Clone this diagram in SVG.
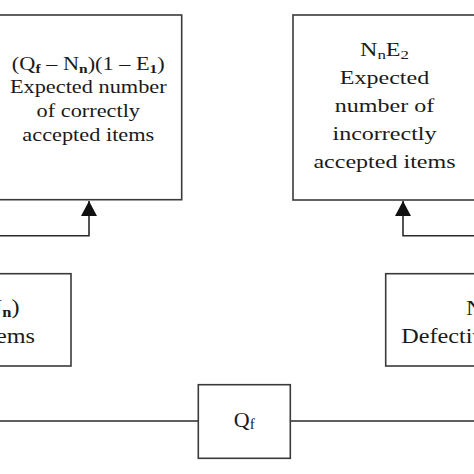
<svg xmlns="http://www.w3.org/2000/svg" width="474" height="474" viewBox="0 0 474 474">
<style>
.box{fill:#fff;stroke:#3a3a3a;stroke-width:1.6}
.conn{fill:none;stroke:#2a2a2a;stroke-width:1.6}
text{font-family:"Liberation Serif","Times New Roman",serif;fill:#1a1a1a}
.t18{font-size:18px}
.t185{font-size:18.5px}
.t22{font-size:22px}
.t20{font-size:22px}
</style>
<defs>
<marker id="arr" viewBox="0 0 15 16" refX="15" refY="8" markerWidth="15" markerHeight="16" markerUnits="userSpaceOnUse" orient="auto">
<path d="M0,0 L15,8 L0,16 Z" fill="#111"/>
</marker>
</defs>
<rect width="474" height="474" fill="#fff"/>
<g id="connectors">
<path class="conn" d="M0,235.7 H89 V201" marker-end="url(#arr)"/>
<path class="conn" d="M474,235.7 H403 V201" marker-end="url(#arr)"/>
<path class="conn" d="M0,421 H198.3"/>
<path class="conn" d="M290.3,421 H474"/>
</g>
<g id="node-correctly-accepted">
<rect class="box" x="-5" y="15" width="186.7" height="184.7"/>
<g transform="translate(88.3 0) scale(1.24 1)">
<text class="t18" text-anchor="middle" y="70">(Q<tspan font-size="12.5" font-weight="bold" dy="3">f</tspan><tspan dy="-3"> – N</tspan><tspan font-size="12.5" font-weight="bold" dy="3">n</tspan><tspan dy="-3">)(1 – E</tspan><tspan font-size="12.5" font-weight="bold" dy="3">1</tspan><tspan dy="-3">)</tspan></text>
<text class="t18" text-anchor="middle" y="93">Expected number</text>
<text class="t18" text-anchor="middle" y="117">of correctly</text>
<text class="t18" text-anchor="middle" y="141">accepted items</text>
</g>
</g>
<g id="node-incorrectly-accepted">
<rect class="box" x="293" y="15" width="200" height="185"/>
<g transform="translate(384.5 0) scale(1.3 1)">
<text class="t185" text-anchor="middle" y="56.5">N<tspan font-size="13" dy="3">n</tspan><tspan dy="-3">E</tspan><tspan font-size="13" dy="3">2</tspan></text>
<text class="t185" text-anchor="middle" y="84">Expected</text>
<text class="t185" text-anchor="middle" y="112">number of</text>
<text class="t185" text-anchor="middle" y="140">incorrectly</text>
<text class="t185" text-anchor="middle" y="168">accepted items</text>
</g>
</g>
<g id="node-good-items">
<rect class="box" x="-120" y="273.7" width="191" height="92.3"/>
<g transform="translate(19.5 0) scale(1.1 1)">
<text class="t22" text-anchor="end" y="314">(Q<tspan font-size="15" font-weight="bold" dy="3">f</tspan><tspan dy="-3"> – N</tspan><tspan font-size="15" font-weight="bold" dy="3">n</tspan><tspan dy="-3">)</tspan></text>
</g>
<g transform="translate(35 0) scale(1.1 1)">
<text class="t22" text-anchor="end" y="343.5">Good items</text>
</g>
</g>
<g id="node-defective-items">
<rect class="box" x="385.7" y="273.7" width="200" height="92.3"/>
<g transform="translate(466 0) scale(1.1 1)">
<text class="t22" y="315">N<tspan font-size="15" dy="3">n</tspan></text>
</g>
<g transform="translate(401.3 0) scale(1.1 1)">
<text class="t22" y="343.5">Defective items</text>
</g>
</g>
<g id="node-qf">
<rect class="box" x="198.3" y="384.7" width="92" height="73.6"/>
<text class="t20" text-anchor="middle" x="244.3" y="427">Q<tspan font-size="15" dy="1.5">f</tspan></text>
</g>
</svg>
